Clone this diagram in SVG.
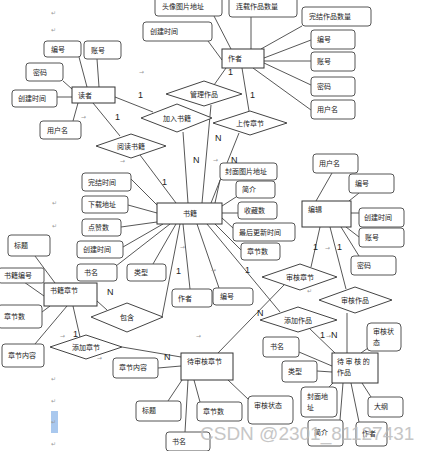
<svg xmlns="http://www.w3.org/2000/svg" width="429" height="451" viewBox="0 0 429 451">
<style>
.bx{fill:#fff;stroke:#555;stroke-width:1}
.en{fill:#fff;stroke:#333;stroke-width:1}
.dm{fill:#fff;stroke:#444;stroke-width:1}
.t{font-family:"Noto Sans CJK SC","Noto Sans",sans-serif;font-size:7px;fill:#222}
.tc{font-family:"Noto Sans CJK SC","Noto Sans",sans-serif;font-size:7px;fill:#222;text-anchor:middle}
.n{font-family:"Liberation Sans",Arial,sans-serif;font-size:9px;fill:#222}
.fm{font-family:"DejaVu Sans",sans-serif;font-size:6px;fill:#999}
.ln{stroke:#444;stroke-width:0.9;fill:none}
.wm{font-family:"Liberation Sans",Arial,sans-serif;font-size:19px;fill:#bdbdbd;opacity:0.85}
</style>
<rect width="429" height="451" fill="#fff"/>
<g id="connectors">
<line class="ln" x1="79" y1="57" x2="87" y2="87"/>
<line class="ln" x1="97" y1="59" x2="99" y2="87"/>
<line class="ln" x1="63" y1="81" x2="72" y2="89"/>
<line class="ln" x1="57" y1="97" x2="72" y2="97"/>
<line class="ln" x1="73" y1="121" x2="78" y2="103"/>
<line class="ln" x1="115" y1="97" x2="153" y2="112"/>
<line class="ln" x1="93" y1="103" x2="120" y2="136"/>
<line class="ln" x1="214" y1="16" x2="231" y2="49"/>
<line class="ln" x1="208" y1="41" x2="222" y2="60"/>
<line class="ln" x1="251" y1="17" x2="251" y2="49"/>
<line class="ln" x1="302" y1="26" x2="261" y2="49"/>
<line class="ln" x1="264" y1="58" x2="311" y2="40"/>
<line class="ln" x1="264" y1="61" x2="311" y2="61"/>
<line class="ln" x1="264" y1="63" x2="311" y2="85"/>
<line class="ln" x1="253" y1="68" x2="311" y2="110"/>
<line class="ln" x1="226" y1="68" x2="214" y2="85"/>
<line class="ln" x1="242" y1="68" x2="249" y2="111"/>
<line class="ln" x1="211" y1="105" x2="202" y2="203"/>
<line class="ln" x1="183" y1="132" x2="188" y2="203"/>
<line class="ln" x1="239" y1="133" x2="211" y2="203"/>
<line class="ln" x1="140" y1="155" x2="176" y2="203"/>
<line class="ln" x1="131" y1="179" x2="157" y2="205"/>
<line class="ln" x1="128" y1="205" x2="157" y2="213"/>
<line class="ln" x1="121" y1="227" x2="157" y2="222"/>
<line class="ln" x1="123" y1="247" x2="163" y2="224"/>
<line class="ln" x1="116" y1="266" x2="170" y2="224"/>
<line class="ln" x1="153" y1="264" x2="176" y2="224"/>
<line class="ln" x1="183" y1="224" x2="190" y2="289"/>
<line class="ln" x1="197" y1="224" x2="219" y2="288"/>
<line class="ln" x1="180" y1="224" x2="162" y2="317"/>
<line class="ln" x1="207" y1="224" x2="280" y2="312"/>
<line class="ln" x1="220" y1="180" x2="215" y2="203"/>
<line class="ln" x1="236" y1="197" x2="222" y2="206"/>
<line class="ln" x1="222" y1="213" x2="238" y2="213"/>
<line class="ln" x1="222" y1="218" x2="233" y2="228"/>
<line class="ln" x1="215" y1="224" x2="241" y2="250"/>
<line class="ln" x1="332" y1="173" x2="316" y2="201"/>
<line class="ln" x1="359" y1="193" x2="349" y2="201"/>
<line class="ln" x1="351" y1="213" x2="359" y2="213"/>
<line class="ln" x1="346" y1="227" x2="359" y2="237"/>
<line class="ln" x1="341" y1="227" x2="359" y2="256"/>
<line class="ln" x1="320" y1="227" x2="311" y2="267"/>
<line class="ln" x1="330" y1="227" x2="346" y2="289"/>
<line class="ln" x1="284" y1="285" x2="218" y2="353"/>
<line class="ln" x1="347" y1="313" x2="347" y2="353"/>
<line class="ln" x1="309" y1="328" x2="336" y2="354"/>
<line class="ln" x1="361" y1="353" x2="368" y2="348"/>
<line class="ln" x1="299" y1="352" x2="332" y2="366"/>
<line class="ln" x1="317" y1="371" x2="332" y2="372"/>
<line class="ln" x1="329" y1="387" x2="333" y2="383"/>
<line class="ln" x1="343" y1="383" x2="340" y2="420"/>
<line class="ln" x1="351" y1="383" x2="359" y2="422"/>
<line class="ln" x1="362" y1="383" x2="371" y2="397"/>
<line class="ln" x1="158" y1="368" x2="181" y2="366"/>
<line class="ln" x1="168" y1="401" x2="182" y2="380"/>
<line class="ln" x1="185" y1="432" x2="188" y2="380"/>
<line class="ln" x1="200" y1="402" x2="194" y2="380"/>
<line class="ln" x1="249" y1="400" x2="228" y2="380"/>
<line class="ln" x1="122" y1="347" x2="181" y2="357"/>
<line class="ln" x1="35" y1="256" x2="55" y2="283"/>
<line class="ln" x1="24" y1="282" x2="44" y2="296"/>
<line class="ln" x1="42" y1="312" x2="50" y2="306"/>
<line class="ln" x1="35" y1="344" x2="67" y2="306"/>
<line class="ln" x1="73" y1="306" x2="80" y2="337"/>
<line class="ln" x1="97" y1="301" x2="107" y2="310"/>
</g>
<g id="reader"><rect class="en" x="72" y="87" width="43" height="16"/><text class="t" x="78" y="97.5">读者</text></g>
<g id="r_id"><rect class="bx" x="44" y="41" width="37" height="16" rx="3"/><text class="t" x="51" y="51.5">编号</text></g>
<g id="r_acc"><rect class="bx" x="84" y="41" width="37" height="18" rx="3"/><text class="t" x="91" y="52.5">账号</text></g>
<g id="r_pwd"><rect class="bx" x="26" y="63" width="37" height="18" rx="3"/><text class="t" x="33" y="74.5">密码</text></g>
<g id="r_ct"><rect class="bx" x="12" y="90" width="45" height="17" rx="3"/><text class="t" x="18" y="101">创建时间</text></g>
<g id="r_un"><rect class="bx" x="40" y="121" width="41" height="18" rx="3"/><text class="t" x="47" y="132.5">用户名</text></g>
<g id="author"><rect class="en" x="222" y="49" width="42" height="19"/><text class="t" x="228" y="60.5">作者</text></g>
<g id="a_avatar"><rect class="bx" x="155" y="-3" width="67" height="19" rx="3"/><text class="t" x="162" y="8.5">头像图片地址</text></g>
<g id="a_ct"><rect class="bx" x="143" y="22" width="69" height="19" rx="3"/><text class="t" x="150" y="33.5">创建时间</text></g>
<g id="a_serial"><rect class="bx" x="229" y="-3" width="68" height="20" rx="3"/><text class="t" x="236" y="9">连载作品数量</text></g>
<g id="a_fin"><rect class="bx" x="302" y="7" width="69" height="19" rx="3"/><text class="t" x="309" y="18.5">完结作品数量</text></g>
<g id="a_id"><rect class="bx" x="311" y="30" width="44" height="19" rx="3"/><text class="t" x="317" y="41.5">编号</text></g>
<g id="a_acc"><rect class="bx" x="311" y="52" width="44" height="19" rx="3"/><text class="t" x="317" y="63.5">账号</text></g>
<g id="a_pwd"><rect class="bx" x="311" y="77" width="44" height="19" rx="3"/><text class="t" x="317" y="88.5">密码</text></g>
<g id="a_un"><rect class="bx" x="311" y="100" width="44" height="19" rx="3"/><text class="t" x="317" y="111.5">用户名</text></g>
<g id="manage"><polygon class="dm" points="166,94 204,81 242,94 204,106"/><text class="tc" x="204" y="96.5">管理作品</text></g>
<g id="addbook"><polygon class="dm" points="141,118 177,104 212,118 177,132"/><text class="tc" x="177" y="120.5">加入书籍</text></g>
<g id="readbook"><polygon class="dm" points="96,146 131,134 166,146 131,158"/><text class="tc" x="131" y="148.5">阅读书籍</text></g>
<g id="upload"><polygon class="dm" points="213,123 250,111 287,123 250,135"/><text class="tc" x="250" y="125.5">上传章节</text></g>
<g id="book"><rect class="en" x="157" y="203" width="65" height="21"/><text class="tc" x="190" y="216">书籍</text></g>
<g id="b_fin"><rect class="bx" x="82" y="173" width="49" height="18" rx="3"/><text class="t" x="88" y="184.5">完结时间</text></g>
<g id="b_dl"><rect class="bx" x="82" y="196" width="46" height="17" rx="3"/><text class="t" x="88" y="207">下载地址</text></g>
<g id="b_like"><rect class="bx" x="82" y="219" width="39" height="17" rx="3"/><text class="t" x="88" y="230">点赞数</text></g>
<g id="b_ct"><rect class="bx" x="77" y="241" width="46" height="17" rx="3"/><text class="t" x="83" y="252">创建时间</text></g>
<g id="b_name"><rect class="bx" x="77" y="264" width="40" height="17" rx="3"/><text class="t" x="84" y="275">书名</text></g>
<g id="b_type"><rect class="bx" x="127" y="264" width="39" height="17" rx="3"/><text class="t" x="134" y="275">类型</text></g>
<g id="b_author"><rect class="bx" x="172" y="289" width="40" height="18" rx="3"/><text class="t" x="178" y="300.5">作者</text></g>
<g id="b_id"><rect class="bx" x="213" y="288" width="40" height="17" rx="3"/><text class="t" x="220" y="299">编号</text></g>
<g id="b_cover"><rect class="bx" x="220" y="163" width="57" height="17" rx="3"/><text class="t" x="225" y="174">封面图片地址</text></g>
<g id="b_intro"><rect class="bx" x="236" y="181" width="39" height="17" rx="3"/><text class="t" x="242" y="192">简介</text></g>
<g id="b_fav"><rect class="bx" x="238" y="202" width="39" height="17" rx="3"/><text class="t" x="244" y="213">收藏数</text></g>
<g id="b_upd"><rect class="bx" x="233" y="223" width="62" height="18" rx="3"/><text class="t" x="239" y="234.5">最后更新时间</text></g>
<g id="b_chn"><rect class="bx" x="241" y="243" width="39" height="17" rx="3"/><text class="t" x="247" y="254">章节数</text></g>
<g id="editor"><rect class="en" x="302" y="201" width="49" height="26"/><text class="t" x="308" y="212">编辑</text></g>
<g id="e_un"><rect class="bx" x="313" y="154" width="45" height="19" rx="3"/><text class="t" x="319" y="165.5">用户名</text></g>
<g id="e_id"><rect class="bx" x="349" y="174" width="45" height="19" rx="3"/><text class="t" x="355" y="185.5">编号</text></g>
<g id="e_ct"><rect class="bx" x="359" y="208" width="45" height="19" rx="3"/><text class="t" x="364" y="219.5">创建时间</text></g>
<g id="e_acc"><rect class="bx" x="359" y="228" width="45" height="19" rx="3"/><text class="t" x="365" y="239.5">账号</text></g>
<g id="e_pwd"><rect class="bx" x="351" y="256" width="45" height="19" rx="3"/><text class="t" x="357" y="267.5">密码</text></g>
<g id="auditch"><polygon class="dm" points="262,277 300,264 337,277 300,290"/><text class="tc" x="300" y="279.5">审核章节</text></g>
<g id="auditwk"><polygon class="dm" points="319,300 355,287 392,300 355,313"/><text class="tc" x="355" y="302.5">审核作品</text></g>
<g id="addwork"><polygon class="dm" points="260,320 298,307 337,320 298,332"/><text class="tc" x="298" y="322.5">添加作品</text></g>
<g id="contain"><polygon class="dm" points="91,317 127,303 163,317 127,332"/><text class="tc" x="127" y="319.5">包含</text></g>
<g id="addch"><polygon class="dm" points="50,347 86,335 122,347 86,359"/><text class="tc" x="86" y="349.5">添加章节</text></g>
<g id="bookch"><rect class="en" x="44" y="283" width="53" height="23"/><text class="t" x="50" y="293">书籍章节</text></g>
<g id="bc_title"><rect class="bx" x="8" y="235" width="42" height="21" rx="3"/><text class="t" x="14" y="247.5">标题</text></g>
<g id="bc_bid"><rect class="bx" x="-1" y="268" width="45" height="15" rx="2"/><text class="t" x="4" y="278">书籍编号</text></g>
<g id="bc_chn"><rect class="bx" x="-2" y="305" width="44" height="23" rx="3"/><text class="t" x="4" y="318.5">章节数</text></g>
<g id="bc_cont"><rect class="bx" x="2" y="344" width="42" height="23" rx="3"/><text class="t" x="8" y="357.5">章节内容</text></g>
<g id="pendch"><rect class="en" x="181" y="353" width="52" height="27"/><text class="t" x="187" y="363.5">待审核章节</text></g>
<g id="pc_cont"><rect class="bx" x="113" y="358" width="45" height="20" rx="3"/><text class="t" x="119" y="370">章节内容</text></g>
<g id="pc_title"><rect class="bx" x="136" y="401" width="45" height="20" rx="3"/><text class="t" x="142" y="413">标题</text></g>
<g id="pc_chn"><rect class="bx" x="197" y="402" width="45" height="19" rx="3"/><text class="t" x="203" y="413.5">章节数</text></g>
<g id="pc_name"><rect class="bx" x="166" y="432" width="44" height="19" rx="3"/><text class="t" x="172" y="443.5">书名</text></g>
<g id="pc_stat"><rect class="bx" x="248" y="396" width="45" height="28" rx="4"/><text class="t" x="254" y="408">审核状态</text></g>
<g id="pendwk"><rect class="en" x="332" y="353" width="46" height="30"/><text class="t" x="337" y="364">待 审 核 的</text><text class="t" x="337" y="375">作品</text></g>
<g id="pw_stat"><rect class="bx" x="367" y="323" width="34" height="28" rx="4"/><text class="t" x="373" y="334">审核状</text><text class="t" x="373" y="345">态</text></g>
<g id="pw_name"><rect class="bx" x="263" y="337" width="36" height="20" rx="3"/><text class="t" x="270" y="349">书名</text></g>
<g id="pw_type"><rect class="bx" x="282" y="361" width="35" height="21" rx="3"/><text class="t" x="288" y="373.5">类型</text></g>
<g id="pw_cover"><rect class="bx" x="301" y="387" width="36" height="30" rx="4"/><text class="t" x="307" y="399">封面地</text><text class="t" x="307" y="410">址</text></g>
<g id="pw_outline"><rect class="bx" x="368" y="397" width="35" height="20" rx="3"/><text class="t" x="374" y="409">大纲</text></g>
<g id="pw_intro"><rect class="bx" x="308" y="420" width="35" height="26" rx="3"/><text class="t" x="314" y="435">简介</text></g>
<g id="pw_author"><rect class="bx" x="356" y="422" width="31" height="24" rx="3"/><text class="t" x="362" y="436">作者</text></g>
<g id="labels">
<text class="n" x="138" y="98">1</text>
<text class="n" x="115" y="120">1</text>
<text class="n" x="228" y="75">1</text>
<text class="n" x="250" y="98">1</text>
<text class="n" x="215" y="141">N</text>
<text class="n" x="193" y="163">N</text>
<text class="n" x="231" y="163">N</text>
<text class="n" x="162" y="185">1</text>
<text class="n" x="176" y="274">1</text>
<text class="n" x="245" y="273">1</text>
<text class="n" x="107" y="295">N</text>
<text class="n" x="73" y="337">1</text>
<text class="n" x="164" y="360">N</text>
<text class="n" x="313" y="250">1</text>
<text class="n" x="337" y="250">1</text>
<text class="n" x="257" y="316">N</text>
<text class="n" x="320" y="338">1</text>
<text class="n" x="331" y="338">N</text>
</g>
<g id="marks">
<text class="fm" x="51" y="15">↵</text>
<text class="fm" x="51" y="32">↵</text>
<text class="fm" x="139" y="74">→</text>
<text class="fm" x="81" y="119">→</text>
<text class="fm" x="120" y="163">→</text>
<text class="fm" x="213" y="162">→</text>
<text class="fm" x="52" y="205">↵</text>
<text class="fm" x="52" y="228">↵</text>
<text class="fm" x="180" y="249">→</text>
<text class="fm" x="211" y="272">→</text>
<text class="fm" x="325" y="250">→</text>
<text class="fm" x="307" y="293">↵</text>
<text class="fm" x="60" y="338">→</text>
<text class="fm" x="97" y="360">→</text>
<text class="fm" x="196" y="338">→</text>
<text class="fm" x="326" y="338">→</text>
<text class="fm" x="51" y="381">↵</text>
<text class="fm" x="51" y="403">↵</text>
<rect x="51" y="411" width="7" height="22" fill="#a9c8ee"/>
<text class="fm" x="51" y="424">↵</text>
<text class="fm" x="51" y="446">↵</text>
</g>
<text class="wm" x="200" y="440">CSDN @2301_81127431</text>
</svg>
